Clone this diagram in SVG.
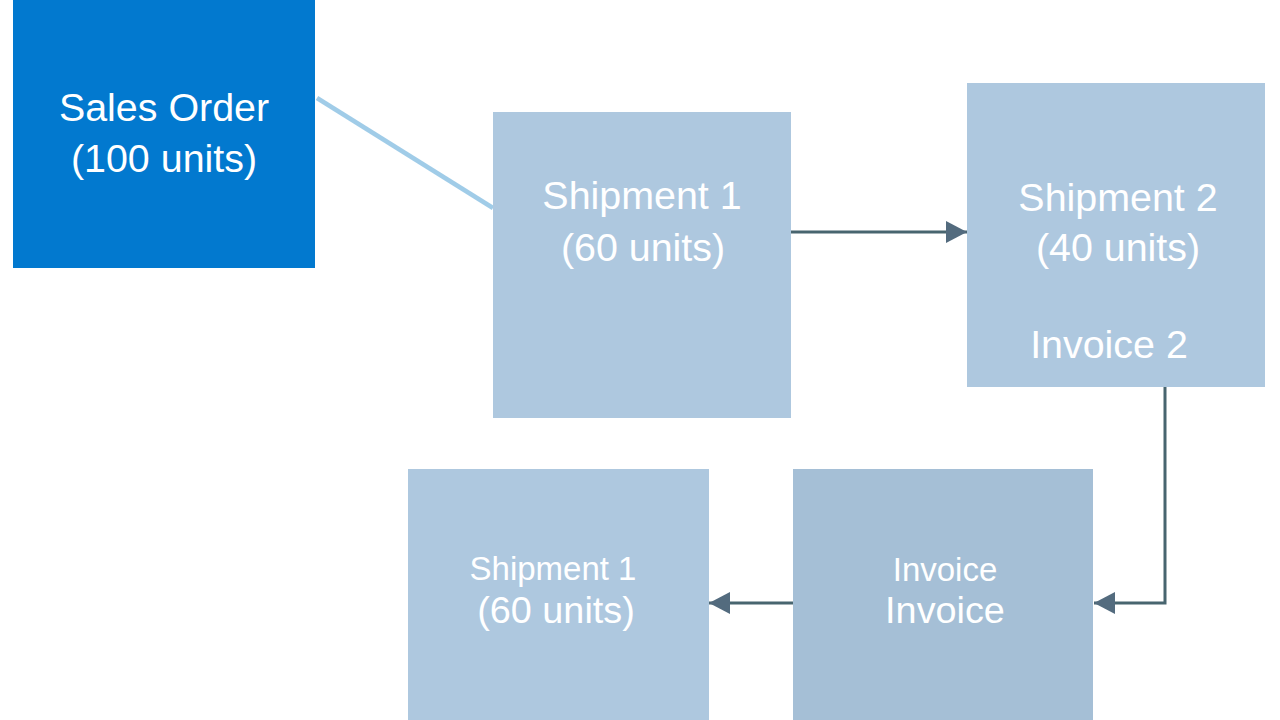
<svg xmlns="http://www.w3.org/2000/svg" width="1280" height="720" viewBox="0 0 1280 720">
<style>
text{font-family:"Liberation Sans",Arial,sans-serif;fill:#fff;text-anchor:middle}
.n{fill:#aec8df}
.x{font-size:39.4px}
.l{font-size:37.8px}
.m{font-size:33px}
.c{fill:none;stroke:#48656f;stroke-width:3}
</style>
<defs>
<marker id="a" markerUnits="userSpaceOnUse" markerWidth="22" markerHeight="24" refX="21" refY="12" orient="auto"><path d="M0 1L21 12L0 23Z" fill="#536b7e"/></marker>
</defs>
<rect width="1280" height="720" fill="#fff"/>
<g id="connectors">
<path d="M317 98L493 208" fill="none" stroke="#a0cce8" stroke-width="4.5"/>
<path class="c" d="M791 232H967" marker-end="url(#a)"/>
<path class="c" d="M1165 387V603H1094" marker-end="url(#a)"/>
<path class="c" d="M793 603H709" marker-end="url(#a)"/>
</g>
<g id="sales-order">
<rect x="13" y="0" width="302" height="268" fill="#0279cf"/>
<text class="x" x="164" y="121">Sales Order</text>
<text class="x" x="164" y="172">(100 units)</text>
</g>
<g id="shipment-1-top">
<rect class="n" x="493" y="112" width="298" height="306"/>
<text class="x" x="642" y="209">Shipment 1</text>
<text class="x" x="643" y="261">(60 units)</text>
</g>
<g id="shipment-2">
<rect class="n" x="967" y="83" width="298" height="304"/>
<text class="x" x="1118" y="211">Shipment 2</text>
<text class="x" x="1118" y="261">(40 units)</text>
<text class="x" x="1109" y="358">Invoice 2</text>
</g>
<g id="invoice">
<rect x="793" y="469" width="300" height="251" fill="#a5bfd6"/>
<text class="m" x="945" y="581">Invoice</text>
<text class="l" x="945" y="623">Invoice</text>
</g>
<g id="shipment-1-bottom">
<rect class="n" x="408" y="469" width="301" height="251"/>
<text class="m" x="553" y="580">Shipment 1</text>
<text class="l" x="556" y="623">(60 units)</text>
</g>
</svg>
